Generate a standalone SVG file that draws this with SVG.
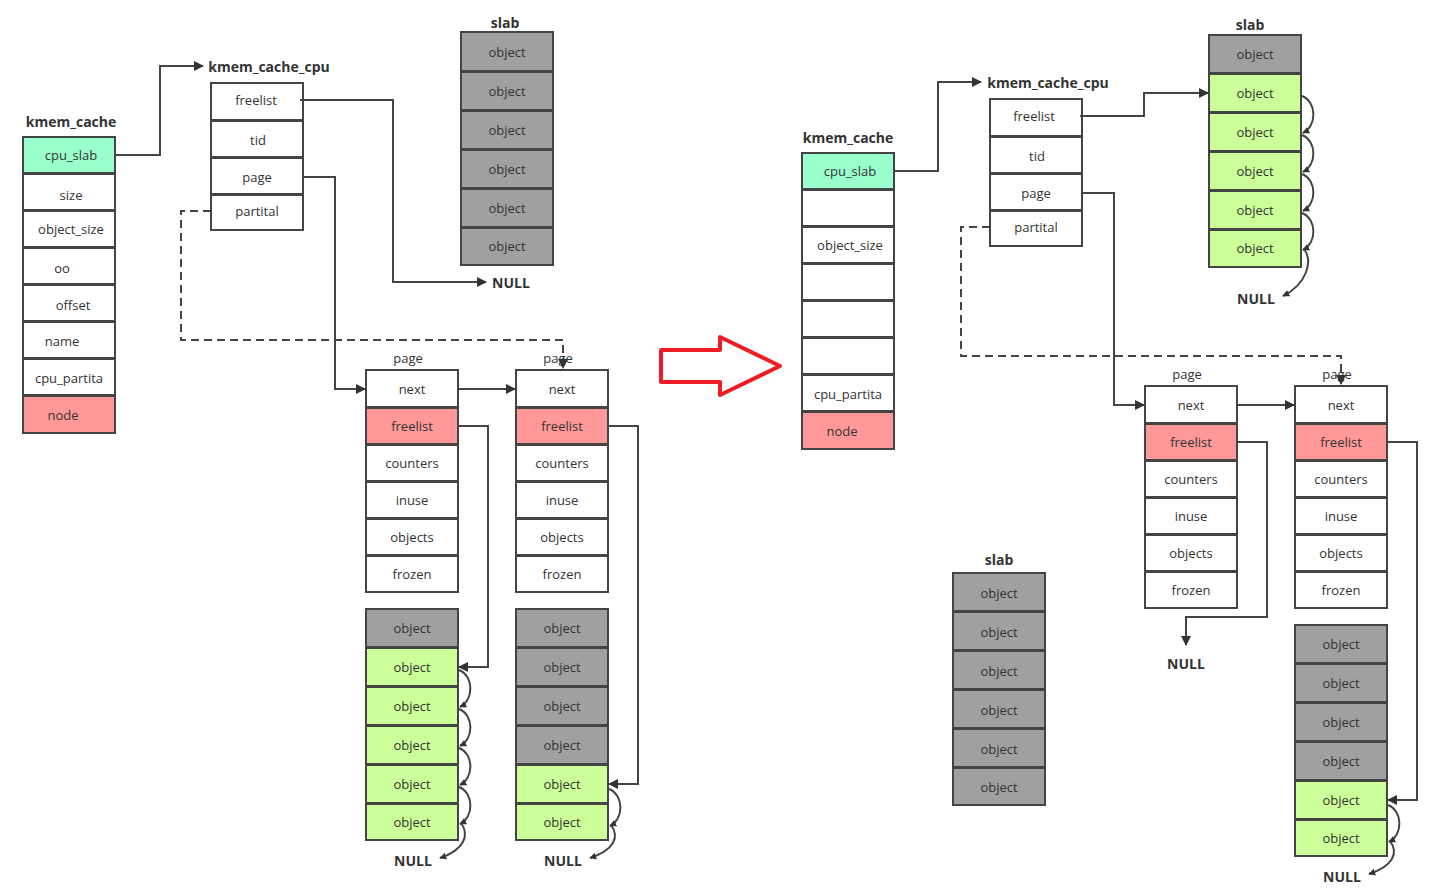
<svg xmlns="http://www.w3.org/2000/svg" width="1448" height="895" viewBox="0 0 1448 895">
<style>
text{font-family:"Open Sans","Liberation Sans",sans-serif;font-size:13px;fill:#333;text-anchor:middle;dominant-baseline:central}
.t{font-weight:bold;font-size:14px}
rect{stroke:#444;stroke-width:2}
.w{fill:#fff}.g{fill:#a0a0a0}.n{fill:#ccff99}.c{fill:#99ffcc}.r{fill:#ff9999}
.l{fill:none;stroke:#444;stroke-width:2}
.d{fill:none;stroke:#444;stroke-width:2;stroke-dasharray:8 5}
</style>
<defs><marker id="a" viewBox="0 0 10 10" refX="9" refY="5" markerWidth="7" markerHeight="7" markerUnits="userSpaceOnUse" orient="auto"><path d="M0,0L10,5L0,10z" fill="#333"/></marker>
<marker id="b" viewBox="0 0 10 10" refX="9" refY="5" markerWidth="12" markerHeight="10" orient="auto" markerUnits="userSpaceOnUse"><path d="M0,0L10,5L0,10z" fill="#333"/></marker></defs>

<g id="kmem_cache_l"><text class="t" x="71" y="121">kmem_cache</text>
<rect class="c" x="23" y="137" width="92" height="36"/><text x="71" y="155">cpu_slab</text>
<rect class="w" x="23" y="174" width="92" height="36"/><text x="71" y="195">size</text>
<rect class="w" x="23" y="211" width="92" height="36"/><text x="71" y="229">object_size</text>
<rect class="w" x="23" y="248" width="92" height="36"/><text x="62" y="268">oo</text>
<rect class="w" x="23" y="285" width="92" height="36"/><text x="73" y="305">offset</text>
<rect class="w" x="23" y="322" width="92" height="36"/><text x="62" y="341">name</text>
<rect class="w" x="23" y="359" width="92" height="36"/><text x="69" y="378">cpu_partita</text>
<rect class="r" x="23" y="396" width="92" height="37"/><text x="63" y="415">node</text></g>

<g id="kmem_cache_cpu_l"><text class="t" x="269" y="66">kmem_cache_cpu</text>
<rect class="w" x="211" y="83" width="92" height="37"/><text x="256" y="100">freelist</text>
<rect class="w" x="211" y="121" width="92" height="36"/><text x="258" y="140">tid</text>
<rect class="w" x="211" y="158" width="92" height="36"/><text x="257" y="177">page</text>
<rect class="w" x="211" y="195" width="92" height="35"/><text x="257" y="211">partital</text></g>

<g id="slab_l"><text class="t" x="505" y="22">slab</text>
<rect class="g" x="461" y="32" width="92" height="39"/><text x="507" y="52">object</text>
<rect class="g" x="461" y="72" width="92" height="38"/><text x="507" y="91">object</text>
<rect class="g" x="461" y="111" width="92" height="38"/><text x="507" y="130">object</text>
<rect class="g" x="461" y="150" width="92" height="38"/><text x="507" y="169">object</text>
<rect class="g" x="461" y="189" width="92" height="38"/><text x="507" y="208">object</text>
<rect class="g" x="461" y="228" width="92" height="37"/><text x="507" y="246">object</text>
<text class="t" x="511" y="282">NULL</text></g>

<g id="page1_l"><text x="408" y="358">page</text>
<rect class="w" x="366" y="370" width="92" height="37"/><text x="412" y="389">next</text>
<rect class="r" x="366" y="408" width="92" height="36"/><text x="412" y="426">freelist</text>
<rect class="w" x="366" y="445" width="92" height="36"/><text x="412" y="463">counters</text>
<rect class="w" x="366" y="482" width="92" height="36"/><text x="412" y="500">inuse</text>
<rect class="w" x="366" y="519" width="92" height="36"/><text x="412" y="537">objects</text>
<rect class="w" x="366" y="556" width="92" height="36"/><text x="412" y="574">frozen</text>
<rect class="g" x="366" y="609" width="92" height="38"/><text x="412" y="628">object</text>
<rect class="n" x="366" y="648" width="92" height="38"/><text x="412" y="667">object</text>
<rect class="n" x="366" y="687" width="92" height="38"/><text x="412" y="706">object</text>
<rect class="n" x="366" y="726" width="92" height="38"/><text x="412" y="745">object</text>
<rect class="n" x="366" y="765" width="92" height="38"/><text x="412" y="784">object</text>
<rect class="n" x="366" y="804" width="92" height="36"/><text x="412" y="822">object</text>
<text class="t" x="413" y="860">NULL</text></g>

<g id="page2_l"><text x="558" y="358">page</text>
<rect class="w" x="516" y="370" width="92" height="37"/><text x="562" y="389">next</text>
<rect class="r" x="516" y="408" width="92" height="36"/><text x="562" y="426">freelist</text>
<rect class="w" x="516" y="445" width="92" height="36"/><text x="562" y="463">counters</text>
<rect class="w" x="516" y="482" width="92" height="36"/><text x="562" y="500">inuse</text>
<rect class="w" x="516" y="519" width="92" height="36"/><text x="562" y="537">objects</text>
<rect class="w" x="516" y="556" width="92" height="36"/><text x="562" y="574">frozen</text>
<rect class="g" x="516" y="609" width="92" height="38"/><text x="562" y="628">object</text>
<rect class="g" x="516" y="648" width="92" height="38"/><text x="562" y="667">object</text>
<rect class="g" x="516" y="687" width="92" height="38"/><text x="562" y="706">object</text>
<rect class="g" x="516" y="726" width="92" height="38"/><text x="562" y="745">object</text>
<rect class="n" x="516" y="765" width="92" height="38"/><text x="562" y="784">object</text>
<rect class="n" x="516" y="804" width="92" height="36"/><text x="562" y="822">object</text>
<text class="t" x="563" y="860">NULL</text></g>

<g id="bigarrow"><polygon points="661,350 720,350 720,337 780,366 720,395 720,382 661,382" fill="#fff" stroke="#ee1c24" stroke-width="4" stroke-linejoin="round"/></g>

<g id="kmem_cache_r"><text class="t" x="848" y="137">kmem_cache</text>
<rect class="c" x="802" y="153" width="92" height="36"/><text x="850" y="171">cpu_slab</text>
<rect class="w" x="802" y="190" width="92" height="36"/>
<rect class="w" x="802" y="227" width="92" height="36"/><text x="850" y="245">object_size</text>
<rect class="w" x="802" y="264" width="92" height="36"/>
<rect class="w" x="802" y="301" width="92" height="36"/>
<rect class="w" x="802" y="338" width="92" height="36"/>
<rect class="w" x="802" y="375" width="92" height="36"/><text x="848" y="394">cpu_partita</text>
<rect class="r" x="802" y="412" width="92" height="37"/><text x="842" y="431">node</text></g>

<g id="kmem_cache_cpu_r"><text class="t" x="1048" y="82">kmem_cache_cpu</text>
<rect class="w" x="990" y="99" width="92" height="37"/><text x="1034" y="116">freelist</text>
<rect class="w" x="990" y="137" width="92" height="36"/><text x="1037" y="156">tid</text>
<rect class="w" x="990" y="174" width="92" height="36"/><text x="1036" y="193">page</text>
<rect class="w" x="990" y="211" width="92" height="35"/><text x="1036" y="227">partital</text></g>

<g id="slab_r"><text class="t" x="1250" y="24">slab</text>
<rect class="g" x="1209" y="35" width="92" height="38"/><text x="1255" y="54">object</text>
<rect class="n" x="1209" y="74" width="92" height="38"/><text x="1255" y="93">object</text>
<rect class="n" x="1209" y="113" width="92" height="38"/><text x="1255" y="132">object</text>
<rect class="n" x="1209" y="152" width="92" height="38"/><text x="1255" y="171">object</text>
<rect class="n" x="1209" y="191" width="92" height="38"/><text x="1255" y="210">object</text>
<rect class="n" x="1209" y="230" width="92" height="37"/><text x="1255" y="248">object</text>
<text class="t" x="1256" y="298">NULL</text></g>

<g id="page1_r"><text x="1187" y="374">page</text>
<rect class="w" x="1145" y="386" width="92" height="37"/><text x="1191" y="405">next</text>
<rect class="r" x="1145" y="424" width="92" height="36"/><text x="1191" y="442">freelist</text>
<rect class="w" x="1145" y="461" width="92" height="36"/><text x="1191" y="479">counters</text>
<rect class="w" x="1145" y="498" width="92" height="36"/><text x="1191" y="516">inuse</text>
<rect class="w" x="1145" y="535" width="92" height="36"/><text x="1191" y="553">objects</text>
<rect class="w" x="1145" y="572" width="92" height="36"/><text x="1191" y="590">frozen</text>
<text class="t" x="1186" y="663">NULL</text></g>

<g id="page2_r"><text x="1337" y="374">page</text>
<rect class="w" x="1295" y="386" width="92" height="37"/><text x="1341" y="405">next</text>
<rect class="r" x="1295" y="424" width="92" height="36"/><text x="1341" y="442">freelist</text>
<rect class="w" x="1295" y="461" width="92" height="36"/><text x="1341" y="479">counters</text>
<rect class="w" x="1295" y="498" width="92" height="36"/><text x="1341" y="516">inuse</text>
<rect class="w" x="1295" y="535" width="92" height="36"/><text x="1341" y="553">objects</text>
<rect class="w" x="1295" y="572" width="92" height="36"/><text x="1341" y="590">frozen</text>
<rect class="g" x="1295" y="625" width="92" height="38"/><text x="1341" y="644">object</text>
<rect class="g" x="1295" y="664" width="92" height="38"/><text x="1341" y="683">object</text>
<rect class="g" x="1295" y="703" width="92" height="38"/><text x="1341" y="722">object</text>
<rect class="g" x="1295" y="742" width="92" height="38"/><text x="1341" y="761">object</text>
<rect class="n" x="1295" y="781" width="92" height="38"/><text x="1341" y="800">object</text>
<rect class="n" x="1295" y="820" width="92" height="36"/><text x="1341" y="838">object</text>
<text class="t" x="1342" y="876">NULL</text></g>

<g id="slab_r2"><text class="t" x="999" y="559">slab</text>
<rect class="g" x="953" y="573" width="92" height="38"/><text x="999" y="593">object</text>
<rect class="g" x="953" y="612" width="92" height="38"/><text x="999" y="632">object</text>
<rect class="g" x="953" y="651" width="92" height="38"/><text x="999" y="671">object</text>
<rect class="g" x="953" y="690" width="92" height="38"/><text x="999" y="710">object</text>
<rect class="g" x="953" y="729" width="92" height="38"/><text x="999" y="749">object</text>
<rect class="g" x="953" y="768" width="92" height="37"/><text x="999" y="787">object</text></g>

<g id="connectors">
<path class="l" marker-end="url(#b)" d="M115,155H160V66H203"/>
<path class="l" marker-end="url(#b)" d="M300,100H393V282H486"/>
<path class="l" marker-end="url(#b)" d="M303,177H335V389H365"/>
<path class="d" marker-end="url(#b)" d="M211,211H181V340H563V368"/>
<path class="l" marker-end="url(#b)" d="M458,389H515"/>
<path class="l" marker-end="url(#b)" d="M458,426H488V667H459"/>
<path class="l" marker-end="url(#b)" d="M608,426H638V784H609"/>
<path class="l" marker-end="url(#a)" d="M459,670C474,676 474,700 460,707"/>
<path class="l" marker-end="url(#a)" d="M459,709C474,715 474,739 460,746"/>
<path class="l" marker-end="url(#a)" d="M459,748C474,754 474,778 460,785"/>
<path class="l" marker-end="url(#a)" d="M459,787C474,793 474,817 460,824"/>
<path class="l" marker-end="url(#a)" d="M461,823C470,835 464,850 440,858"/>
<path class="l" marker-end="url(#a)" d="M609,789C624,795 624,819 610,826"/>
<path class="l" marker-end="url(#a)" d="M611,825C620,837 614,850 590,858"/>

<path class="l" marker-end="url(#b)" d="M894,171H938V82H981"/>
<path class="l" marker-end="url(#b)" d="M1080,116H1144V93H1208"/>
<path class="l" marker-end="url(#b)" d="M1082,193H1114V405H1144"/>
<path class="d" marker-end="url(#b)" d="M990,227H961V356H1341V384"/>
<path class="l" marker-end="url(#b)" d="M1237,405H1294"/>
<path class="l" marker-end="url(#b)" d="M1237,442H1267V617H1186V645"/>
<path class="l" marker-end="url(#b)" d="M1387,442H1417V800H1388"/>
<path class="l" marker-end="url(#a)" d="M1302,96C1317,102 1317,126 1303,133"/>
<path class="l" marker-end="url(#a)" d="M1302,135C1317,141 1317,165 1303,172"/>
<path class="l" marker-end="url(#a)" d="M1302,174C1317,180 1317,204 1303,211"/>
<path class="l" marker-end="url(#a)" d="M1302,213C1317,219 1317,243 1303,250"/>
<path class="l" marker-end="url(#a)" d="M1304,249C1313,261 1307,284 1283,296"/>
<path class="l" marker-end="url(#a)" d="M1388,805C1403,811 1403,835 1389,842"/>
<path class="l" marker-end="url(#a)" d="M1390,841C1399,853 1393,866 1369,874"/>
</g>
</svg>
